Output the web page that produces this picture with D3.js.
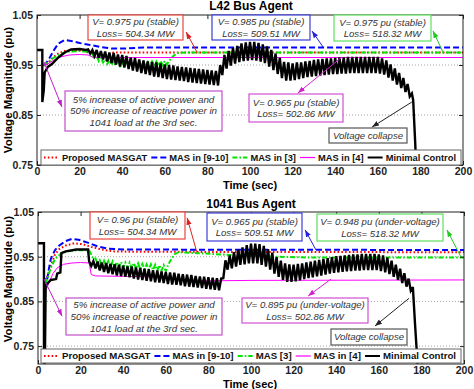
<!DOCTYPE html>
<html>
<head>
<meta charset="utf-8">
<script src="https://cdn.jsdelivr.net/npm/d3@7"></script>
<style>
  body { margin: 0; background: #fff; }
  svg { display: block; }
</style>
</head>
<body>
<svg id="chart" width="474" height="389"></svg>
<script>
// ---- data ----
const xTicks = [0, 20, 40, 60, 80, 100, 120, 140, 160, 180, 200];
const yTicks = [0.75, 0.85, 0.95, 1.05];
const namesTop = ['Proposed MASGAT', 'MAS in [9-10]', 'MAS in [3]', 'MAS in [4]', 'Minimal Control'];
const namesBottom = ['Proposed MASGAT', 'MAS in [9-10]', 'MAS [3]', 'MAS in [4]', 'Minimal Control'];

// L42 bus
const l42Red = [[3,0.95],[4,0.948],[6,0.958],[8,0.967],[10,0.973],[13,0.978],[17,0.98],[21,0.979],[25,0.974],[28,0.97],[33,0.97],[36,0.975],[200,0.975]];
const l42Blue = [[3,0.95],[4,0.952],[6,0.965],[8,0.98],[10,0.993],[13,1.0],[16,0.998],[20,0.994],[25,0.99],[30,0.986],[35,0.983],[42,0.983],[50,0.985],[200,0.985]];
const l42GreenHead = [[3,0.95],[5,0.955],[8,0.965],[11,0.972],[15,0.977],[20,0.978],[24,0.976]];
const l42GreenRipple = [ // t = 26..61, 1 s apart
  0.972,0.962,0.968,0.958,0.965,0.955,0.961,0.952,0.959,0.950,
  0.958,0.949,0.957,0.948,0.956,0.948,0.956,0.948,0.956,0.948,
  0.956,0.948,0.956,0.948,0.956,0.948,0.956,0.948,0.957,0.949,
  0.957,0.949,0.958,0.950,0.958,0.951];
const l42GreenTail = [[62,0.958],[64,0.968],[66,0.974],[70,0.975],[200,0.975]];
const l42Magenta = [[3,0.95],[5,0.952],[8,0.96],[11,0.966],[15,0.97],[20,0.971],[24,0.97],[26,0.966],[30,0.965],[200,0.965]];
const l42BlackHead = [[0,0.98],[2.5,0.98],[2.5,0.876],[3.2,0.9],[3.6,0.935],[5,0.946],[7,0.952],[10,0.965],[13,0.975],[16,0.981],[20,0.982],[23,0.98]];
const l42BlackRipple = [ // t = 24..176, 1 s apart
  0.981,0.973,0.980,0.968,0.980,0.964,0.978,0.961,0.977,0.957,
  0.975,0.954,0.974,0.951,0.971,0.947,0.970,0.945,0.968,0.942,
  0.965,0.939,0.964,0.937,0.961,0.934,0.959,0.932,0.957,0.930,
  0.956,0.927,0.955,0.926,0.953,0.924,0.951,0.922,0.950,0.921,
  0.949,0.920,0.947,0.919,0.946,0.918,0.945,0.916,0.944,0.915,
  0.943,0.914,0.942,0.913,0.941,0.912,0.940,0.911,0.939,0.910,
  0.938,0.909,0.950,0.930,0.970,0.943,0.978,0.949,0.984,0.953,
  0.988,0.956,0.993,0.958,0.995,0.959,0.996,0.960,0.996,0.959,
  0.994,0.957,0.991,0.954,0.987,0.947,0.980,0.940,0.973,0.932,
  0.964,0.924,0.956,0.919,0.955,0.919,0.953,0.920,0.955,0.922,
  0.955,0.924,0.957,0.926,0.958,0.927,0.960,0.928,0.961,0.929,
  0.962,0.930,0.963,0.931,0.963,0.932,0.964,0.932,0.965,0.933,
  0.965,0.933,0.966,0.934,0.966,0.934,0.966,0.934,0.966,0.934,
  0.966,0.934,0.966,0.934,0.966,0.934,0.966,0.933,0.963,0.931,
  0.959,0.925,0.951,0.919,0.943,0.911,0.934,0.904,0.924,0.896,
  0.912,0.887,0.893];
const l42BlackTail = [[176.6,0.88],[177.5,0.80],[178.5,0.70]];

// 1041 bus
const b1041Red = [[3,0.9],[4,0.9],[5,0.915],[6,0.93],[8,0.955],[10,0.967],[13,0.975],[17,0.98],[21,0.978],[25,0.972],[30,0.966],[35,0.962],[45,0.961],[200,0.96]];
const b1041Blue = [[3,0.9],[4,0.89],[5,0.92],[6,0.945],[8,0.965],[10,0.975],[13,0.985],[16,0.99],[19,0.988],[23,0.982],[28,0.973],[33,0.968],[40,0.966],[200,0.965]];
const b1041GreenHead = [[3,0.9],[4,0.895],[6,0.925],[8,0.945],[11,0.958],[15,0.963],[20,0.965],[24,0.964],[25,0.955],[26,0.945]];
const b1041GreenRipple = [ // t = 27..61
  0.946,0.934,0.942,0.929,0.941,0.928,0.940,0.927,0.939,0.926,
  0.938,0.926,0.938,0.926,0.937,0.925,0.937,0.924,0.936,0.923,
  0.935,0.922,0.934,0.922,0.933,0.921,0.933,0.920,0.932,0.919,
  0.931,0.919,0.931,0.918,0.930];
const b1041GreenTail = [[62,0.94],[64,0.955],[66,0.96],[75,0.958],[90,0.954],[110,0.95],[130,0.948],[200,0.948]];
const b1041Magenta = [[3,0.9],[4,0.878],[5,0.89],[7,0.912],[9,0.925],[12,0.933],[16,0.936],[20,0.937],[24,0.936],[25,0.91],[27,0.907],[40,0.906],[55,0.905],[65,0.9],[80,0.896],[100,0.897],[200,0.898]];
const b1041BlackHead = [[0,0.98],[2.8,0.98],[2.8,0.70],[3.2,0.70],[3.6,0.885],[5,0.893],[6,0.898],[8.5,0.9],[9,0.912],[10.5,0.915],[11,0.958],[13,0.962],[18,0.966],[23.5,0.966],[24,0.94]];
const b1041BlackRipple = [ // t = 25..176
  0.929,0.940,0.924,0.939,0.919,0.937,0.916,0.936,0.913,0.934,
  0.911,0.933,0.908,0.932,0.907,0.930,0.905,0.928,0.904,0.928,
  0.901,0.926,0.899,0.925,0.898,0.923,0.896,0.922,0.895,0.920,
  0.893,0.919,0.892,0.917,0.891,0.916,0.889,0.915,0.888,0.914,
  0.887,0.912,0.886,0.911,0.884,0.910,0.883,0.909,0.882,0.907,
  0.881,0.906,0.880,0.905,0.878,0.904,0.877,0.903,0.876,0.902,
  0.875,0.901,0.902,0.942,0.921,0.953,0.924,0.960,0.928,0.966,
  0.932,0.971,0.933,0.976,0.935,0.979,0.935,0.979,0.935,0.978,
  0.932,0.974,0.928,0.967,0.921,0.959,0.912,0.949,0.905,0.941,
  0.898,0.935,0.894,0.933,0.894,0.932,0.895,0.934,0.897,0.935,
  0.900,0.937,0.902,0.939,0.904,0.941,0.906,0.943,0.908,0.945,
  0.910,0.947,0.912,0.949,0.914,0.951,0.915,0.952,0.916,0.953,
  0.917,0.954,0.918,0.955,0.919,0.955,0.919,0.956,0.920,0.956,
  0.920,0.956,0.920,0.956,0.920,0.955,0.918,0.953,0.915,0.948,
  0.911,0.941,0.905,0.932,0.898,0.923,0.891,0.913,0.883,0.901,
  0.874,0.882];
const b1041BlackTail = [[177,0.8],[177.8,0.74],[178.3,0.70]];

// ---- build series tables ----
function build(head, start, ripple, tail) {
  return head.concat(ripple.map((v, i) => [start + i, v])).concat(tail);
}

const FONT = '"Liberation Sans", Arial, sans-serif';
const styles = [
  { color: '#ff0000', width: 2,   dash: '1.6,2.2' },
  { color: '#0000ff', width: 2,   dash: '6,3' },
  { color: '#00e600', width: 2,   dash: '5,2,1.6,2' },
  { color: '#ff00ff', width: 1,   dash: null },
  { color: '#000000', width: 2.4, dash: null }
];

const panels = [
  {
    id: 'l42', title: 'L42 Bus Agent', titleY: 9.5,
    left: 37, right: 463, top: 15, bottom: 165, yDomain: [0.75, 1.05],
    names: namesTop,
    series: [l42Red, l42Blue, build(l42GreenHead, 26, l42GreenRipple, l42GreenTail), l42Magenta, build(l42BlackHead, 24, l42BlackRipple, l42BlackTail)],
    legend: { x: 41, y: 150, w: 420, h: 15 },
    xLabelY: 188.5,
    notes: [
      { box: [88, 15, 183, 40], border: '#e8453f', arrow: '#e02020', lines: ['V= 0.975 pu (stable)', 'Loss= 504.34 MW'], from: [75.1, 0.976], to: [70, 1.016] },
      { box: [212, 15, 310, 40], border: '#3c3cd8', arrow: '#2222d8', lines: ['V= 0.985 pu (stable)', 'Loss= 509.51 MW'], from: [134.3, 0.986], to: [129.1, 1.018] },
      { box: [334, 15, 431, 41], border: '#5ee05e', arrow: '#22c822', lines: ['V= 0.975 pu (stable)', 'Loss= 518.32 MW'], from: [190.6, 0.976], to: [185.9, 1.018] },
      { box: [249, 94, 343, 122], border: '#d050d0', arrow: '#d020d0', lines: ['V= 0.965 pu (stable)', 'Loss= 502.86 MW'], from: [143.2, 0.966], to: [122.5, 0.894] },
      { box: [329, 128, 407, 143], border: '#555555', arrow: '#222222', lines: ['Voltage collapse'], from: [176, 0.876], to: [157.3, 0.826] },
      { box: [65, 91, 222, 131], border: '#c050c8', arrow: '#c020c8', lines: ['5% increase of active power and', '50% increase of reactive power in', '1041 load at the 3rd sec.'], from: [3.3, 0.956], to: [11.7, 0.866] }
    ]
  },
  {
    id: 'b1041', title: '1041 Bus Agent', titleY: 207.5,
    left: 38, right: 464, top: 212, bottom: 364, yDomain: [0.71, 1.05],
    names: namesBottom,
    series: [b1041Red, b1041Blue, build(b1041GreenHead, 27, b1041GreenRipple, b1041GreenTail), b1041Magenta, build(b1041BlackHead, 25, b1041BlackRipple, b1041BlackTail)],
    legend: { x: 41, y: 349, w: 420, h: 14 },
    xLabelY: 387.5,
    notes: [
      { box: [90, 212, 185, 239], border: '#e8453f', arrow: '#e02020', lines: ['V= 0.96 pu (stable)', 'Loss= 504.34 MW'], from: [74.6, 0.96], to: [70, 1.037] },
      { box: [207, 213, 302, 241], border: '#3c3cd8', arrow: '#2222d8', lines: ['V= 0.965 pu (stable)', 'Loss= 509.51 MW'], from: [130.5, 0.965], to: [125.4, 1.01] },
      { box: [317, 214, 443, 241], border: '#5ee05e', arrow: '#22c822', lines: ['V= 0.948 pu (under-voltage)', 'Loss= 518.32 MW'], from: [198.6, 0.949], to: [192, 1.01] },
      { box: [242, 298, 368, 323], border: '#d050d0', arrow: '#d020d0', lines: ['V= 0.895 pu (under-voltage)', 'Loss= 502.86 MW'], from: [137.6, 0.9], to: [126.8, 0.862] },
      { box: [331, 329, 407, 345], border: '#555555', arrow: '#222222', lines: ['Voltage collapse'], from: [174.2, 0.857], to: [158.2, 0.795] },
      { box: [66, 298, 222, 335], border: '#c050c8', arrow: '#c020c8', lines: ['5% increase of active power and', '50% increase of reactive power in', '1041 load at the 3rd sec.'], from: [2.8, 0.9], to: [11.3, 0.817] }
    ]
  }
];

// ---- drawing ----
const svg = d3.select('#chart').attr('font-family', FONT);
svg.append('rect').attr('width', 474).attr('height', 389).attr('fill', '#fff');
const defs = svg.append('defs');

function markerFor(color) {
  const id = 'arr' + color.replace('#', '');
  if (defs.select('#' + id).empty()) {
    defs.append('marker')
      .attr('id', id)
      .attr('viewBox', '0 0 8 6')
      .attr('refX', 8).attr('refY', 3)
      .attr('markerWidth', 7).attr('markerHeight', 5.5)
      .attr('markerUnits', 'userSpaceOnUse')
      .attr('orient', 'auto')
      .append('path').attr('d', 'M0,0L8,3L0,6Z').attr('fill', color);
  }
  return 'url(#' + id + ')';
}

panels.forEach(p => {
  const x = d3.scaleLinear().domain([0, 200]).range([p.left, p.right]);
  const y = d3.scaleLinear().domain(p.yDomain).range([p.bottom, p.top]);
  const g = svg.append('g');

  defs.append('clipPath').attr('id', 'clip-' + p.id)
    .append('rect')
    .attr('x', p.left).attr('y', p.top)
    .attr('width', p.right - p.left).attr('height', p.bottom - p.top);

  // grid
  g.selectAll('.grid')
    .data(yTicks.filter(v => y(v) > p.top + 1 && y(v) < p.bottom - 1))
    .enter().append('line')
    .attr('x1', p.left).attr('x2', p.right)
    .attr('y1', d => y(d)).attr('y2', d => y(d))
    .attr('stroke', '#8a8a8a').attr('stroke-width', 0.8)
    .attr('stroke-dasharray', '1,2');

  // series
  const line = d3.line().x(d => x(d[0])).y(d => y(d[1]));
  const lines = g.append('g').attr('clip-path', 'url(#clip-' + p.id + ')');
  p.series.forEach((s, i) => {
    lines.append('path')
      .datum(s)
      .attr('d', line)
      .attr('fill', 'none')
      .attr('stroke', styles[i].color)
      .attr('stroke-width', styles[i].width)
      .attr('stroke-dasharray', styles[i].dash)
      .attr('stroke-linejoin', 'miter')
      .attr('stroke-miterlimit', 3);
  });

  // axes
  const styleAxis = a => {
    a.select('.domain').remove();
    a.attr('font-family', FONT).attr('font-size', 10.5).attr('font-weight', 'bold').attr('color', '#222');
  };
  g.append('g').attr('transform', `translate(0,${p.bottom})`)
    .call(d3.axisBottom(x).tickValues(xTicks).tickSizeInner(-4).tickSizeOuter(0).tickPadding(3))
    .call(styleAxis);
  g.append('g').attr('transform', `translate(0,${p.top})`)
    .call(d3.axisTop(x).tickValues(xTicks).tickSizeInner(-4).tickSizeOuter(0).tickFormat(''))
    .call(styleAxis);
  g.append('g').attr('transform', `translate(${p.left},0)`)
    .call(d3.axisLeft(y).tickValues(yTicks).tickSizeInner(-4).tickSizeOuter(0).tickPadding(4).tickFormat(d3.format('.2f')))
    .call(styleAxis);
  g.append('g').attr('transform', `translate(${p.right},0)`)
    .call(d3.axisRight(y).tickValues(yTicks).tickSizeInner(-4).tickSizeOuter(0).tickFormat(''))
    .call(styleAxis);

  g.append('rect')
    .attr('x', p.left).attr('y', p.top)
    .attr('width', p.right - p.left).attr('height', p.bottom - p.top)
    .attr('fill', 'none').attr('stroke', '#222').attr('stroke-width', 1);

  // titles
  svg.append('text').attr('x', 251).attr('y', p.titleY)
    .attr('text-anchor', 'middle').attr('font-size', 12).attr('font-weight', 'bold')
    .text(p.title);
  svg.append('text').attr('x', 250).attr('y', p.xLabelY)
    .attr('text-anchor', 'middle').attr('font-size', 11).attr('font-weight', 'bold')
    .text('Time (sec)');
  const yMid = (y(0.75) + y(1.05)) / 2;
  svg.append('text')
    .attr('transform', `translate(12,${yMid}) rotate(-90)`)
    .attr('text-anchor', 'middle').attr('font-size', 11.5).attr('font-weight', 'bold')
    .text('Voltage Magnitude (pu)');

  // annotations
  p.notes.forEach(n => {
    const [x0, y0, x1, y1] = n.box;
    g.append('line')
      .attr('x1', x(n.from[0])).attr('y1', y(n.from[1]))
      .attr('x2', x(n.to[0])).attr('y2', y(n.to[1]))
      .attr('stroke', n.arrow).attr('stroke-width', 1)
      .attr('marker-end', markerFor(n.arrow));
    g.append('rect')
      .attr('x', x0).attr('y', y0).attr('width', x1 - x0).attr('height', y1 - y0)
      .attr('fill', '#fff').attr('stroke', n.border).attr('stroke-width', 1.2);
    const cy = (y0 + y1) / 2;
    const step = n.lines.length === 3 ? 11.6 : 11.3;
    n.lines.forEach((t, k) => {
      g.append('text')
        .attr('x', (x0 + x1) / 2)
        .attr('y', cy + (k - (n.lines.length - 1) / 2) * step + 3.4)
        .attr('text-anchor', 'middle')
        .attr('font-size', n.lines.length === 3 ? 9.8 : 9.6)
        .attr('font-style', 'italic')
        .attr('fill', '#333')
        .text(t);
    });
  });

  // legend
  const L = p.legend;
  const lg = g.append('g');
  lg.append('rect').attr('x', L.x).attr('y', L.y).attr('width', L.w).attr('height', L.h)
    .attr('fill', '#fff').attr('stroke', '#666').attr('stroke-width', 1);
  const cyL = L.y + L.h / 2;
  const sample = 15, pad = 3, minGap = 4;
  let fs = 10.5;
  const texts = p.names.map(nm => lg.append('text')
    .attr('font-size', fs).attr('font-weight', 'bold').attr('fill', '#111')
    .text(nm));
  let widths = texts.map(t => t.node().getComputedTextLength());
  const room = L.w - 8 - p.names.length * (sample + pad) - (p.names.length - 1) * minGap;
  if (d3.sum(widths) > room) {
    fs = fs * room / d3.sum(widths);
    texts.forEach(t => t.attr('font-size', fs));
    widths = texts.map(t => t.node().getComputedTextLength());
  }
  const gap = (L.w - 8 - d3.sum(widths) - p.names.length * (sample + pad)) / (p.names.length - 1);
  let cx = L.x + 3;
  p.names.forEach((nm, i) => {
    lg.append('line')
      .attr('x1', cx).attr('x2', cx + sample)
      .attr('y1', cyL).attr('y2', cyL)
      .attr('stroke', styles[i].color)
      .attr('stroke-width', i === 3 ? 1.2 : 2)
      .attr('stroke-dasharray', styles[i].dash);
    texts[i].attr('x', cx + sample + pad).attr('y', cyL + fs * 0.36);
    cx += sample + pad + widths[i] + gap;
  });
});
</script>
</body>
</html>
